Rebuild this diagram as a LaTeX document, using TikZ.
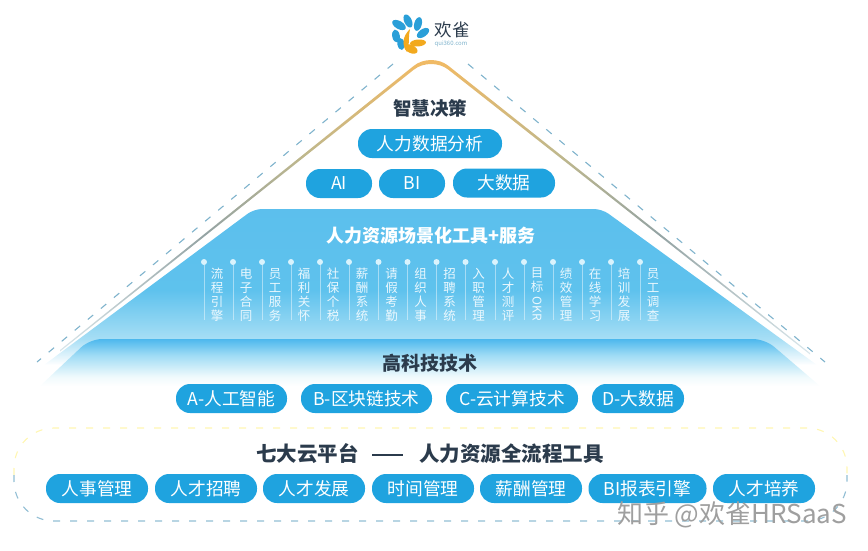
\documentclass[tikz,border=0pt]{standalone}
\usepackage{fontspec}
\setmainfont{Noto Sans CJK SC}
\usepackage{xcolor}
\usetikzlibrary{positioning,calc,shapes}
\definecolor{pillblue}{HTML}{1FA3DF}
\definecolor{titledark}{HTML}{2B3B4C}
\definecolor{logoblue}{HTML}{2A9FD8}
\definecolor{logogold}{HTML}{F2A91E}
\definecolor{dashblue}{HTML}{7FB3CC}
\pgfdeclareverticalshading{rooffade}{100bp}{rgb(0bp)=(0.86,0.91,0.93); rgb(25bp)=(0.86,0.91,0.93); rgb(45bp)=(0.58,0.64,0.64); rgb(58bp)=(0.75,0.72,0.55); rgb(75bp)=(0.96,0.73,0.38); rgb(100bp)=(0.96,0.73,0.38)}
\pgfdeclareverticalshading{scenefade}{100bp}{rgb(0bp)=(1,1,1); rgb(25bp)=(1,1,1); rgb(33.5bp)=(0.65,0.87,0.96); rgb(49bp)=(0.37,0.76,0.93); rgb(75bp)=(0.36,0.75,0.93); rgb(100bp)=(0.36,0.75,0.93)}
\pgfdeclareverticalshading{techfade}{100bp}{rgb(0bp)=(1,1,1); rgb(25bp)=(1,1,1); rgb(35bp)=(0.94,0.98,0.99); rgb(58bp)=(0.62,0.86,0.96); rgb(75bp)=(0.30,0.72,0.93); rgb(100bp)=(0.30,0.72,0.93)}
\tikzset{
  pill/.style={rectangle, rounded corners=14pt, fill=pillblue, text=white, minimum height=29pt, inner sep=0pt, font=\fontsize{17.7}{20}\selectfont},
  layertitle/.style={text=titledark, inner sep=0pt, font=\fontsize{19}{22}\selectfont\bfseries},
  tooldot/.style={circle, fill=white!85!cyan, minimum size=6pt, inner sep=0pt},
  toolline/.style={draw=white, opacity=0.45, line width=0.6pt},
  tooltext/.style={text=white!92!cyan, inner sep=0pt, align=center, font=\fontsize{12.5}{14}\selectfont},
  roofdash/.style={draw=dashblue, dash pattern=on 7pt off 10pt, line width=1.1pt},
  petal/.style={fill=logoblue}
}
\begin{document}
\begin{tikzpicture}[x=1pt,y=-1pt]
    \useasboundingbox (0,0) rectangle (868,550);

    % Logo
    \fill[petal, shift={(399,25)}, rotate=-30] (0,0) ellipse (7.5pt and 4pt);
    \fill[petal, shift={(408,21)}, rotate=-65] (0,0) ellipse (7pt and 3.8pt);
    \fill[petal, shift={(418,24)}, rotate=75] (0,0) ellipse (7pt and 3.8pt);
    \fill[petal, shift={(423,33)}, rotate=35] (0,0) ellipse (7pt and 3.8pt);
    \fill[petal, shift={(396,36)}, rotate=10] (0,0) ellipse (3.8pt and 6.5pt);
    \fill[petal, shift={(401,44)}, rotate=10] (0,0) ellipse (3.6pt and 6pt);
    \fill[logogold] (410,29) .. controls (403,36) and (401,44) .. (407,52) .. controls (410,44) and (408,36) .. (410,29);
    \fill[logogold, shift={(418,43)}, rotate=5] (0,0) ellipse (8pt and 3.5pt);
    \fill[logogold, shift={(411,49)}, rotate=-25] (0,0) ellipse (7pt and 4pt);
    \node[text=titledark, inner sep=0pt, font=\fontsize{17.5}{20}\selectfont] (logotext) at (452,30) {欢雀};
    \node[text=dashblue, inner sep=0pt, font=\fontsize{6}{7}\selectfont] (logourl) at (451,44) {qui360.com};

    % Outer roof lines
    \draw[roofdash] (393,64) -- (37,362);
    \draw[roofdash] (468,64) -- (825,362);
    \shade[shading=rooffade]
        (60,350) [rounded corners=22pt] -- (431,52) [sharp corners] -- (810,353) -- (810,354.5)
        [rounded corners=22pt] -- (431,56) [sharp corners] -- (60,351.5) -- cycle;

    % Scene layer
    \shade[shading=scenefade] (44,365) [rounded corners=8pt] -- (254,209) -- (602,209) [sharp corners] -- (817,365) -- cycle;

    % Tech layer
    \shade[shading=techfade] (40,386) [rounded corners=12pt] -- (90,339) -- (765,339) [sharp corners] -- (820,386) -- cycle;

    % Decision layer
    \node[layertitle, font=\fontsize{18.5}{22}\selectfont\bfseries] (decision) at (430,108) {智慧决策};
    \node[pill, minimum width=144pt] (analysis) at (430,143.5) {人力数据分析};
    \node[pill, minimum width=66pt] (ai) at (339,183.5) {AI};
    \node[pill, minimum width=66pt] (bi) at (412,183.5) {BI};
    \node[pill, minimum width=102pt] (bigdata) at (504,183) {大数据};

    % Scene tools
    \node[layertitle, text=white, font=\fontsize{18}{22}\selectfont\bfseries] (scene) at (431,236) {人力资源场景化工具+服务};
    \node[tooldot] (d1) at (204,262) {}; \coordinate (e1) at (204,320); \draw[toolline] (d1) -- (e1);
    \node[tooldot] (d2) at (233,262) {}; \coordinate (e2) at (233,320); \draw[toolline] (d2) -- (e2);
    \node[tooldot] (d3) at (262,262) {}; \coordinate (e3) at (262,320); \draw[toolline] (d3) -- (e3);
    \node[tooldot] (d4) at (291,262) {}; \coordinate (e4) at (291,320); \draw[toolline] (d4) -- (e4);
    \node[tooldot] (d5) at (320,262) {}; \coordinate (e5) at (320,320); \draw[toolline] (d5) -- (e5);
    \node[tooldot] (d6) at (349,262) {}; \coordinate (e6) at (349,320); \draw[toolline] (d6) -- (e6);
    \node[tooldot] (d7) at (378.5,262) {}; \coordinate (e7) at (378.5,320); \draw[toolline] (d7) -- (e7);
    \node[tooldot] (d8) at (407.5,262) {}; \coordinate (e8) at (407.5,320); \draw[toolline] (d8) -- (e8);
    \node[tooldot] (d9) at (436.5,262) {}; \coordinate (e9) at (436.5,320); \draw[toolline] (d9) -- (e9);
    \node[tooldot] (d10) at (465.5,262) {}; \coordinate (e10) at (465.5,320); \draw[toolline] (d10) -- (e10);
    \node[tooldot] (d11) at (495,262) {}; \coordinate (e11) at (495,320); \draw[toolline] (d11) -- (e11);
    \node[tooldot] (d12) at (524,262) {}; \coordinate (e12) at (524,320); \draw[toolline] (d12) -- (e12);
    \node[tooldot] (d13) at (553,262) {}; \coordinate (e13) at (553,320); \draw[toolline] (d13) -- (e13);
    \node[tooldot] (d14) at (582,262) {}; \coordinate (e14) at (582,320); \draw[toolline] (d14) -- (e14);
    \node[tooldot] (d15) at (611,262) {}; \coordinate (e15) at (611,320); \draw[toolline] (d15) -- (e15);
    \node[tooldot] (d16) at (640,262) {}; \coordinate (e16) at (640,320); \draw[toolline] (d16) -- (e16);
    \node[tooltext] (t1) at (217,295) {流\\程\\引\\擎};
    \node[tooltext] (t2) at (246,295) {电\\子\\合\\同};
    \node[tooltext] (t3) at (275,295) {员\\工\\服\\务};
    \node[tooltext] (t4) at (304,295) {福\\利\\关\\怀};
    \node[tooltext] (t5) at (333,295) {社\\保\\个\\税};
    \node[tooltext] (t6) at (362,295) {薪\\酬\\系\\统};
    \node[tooltext] (t7) at (391.5,295) {请\\假\\考\\勤};
    \node[tooltext] (t8) at (420.5,295) {组\\织\\人\\事};
    \node[tooltext] (t9) at (449.5,295) {招\\聘\\系\\统};
    \node[tooltext] (t10) at (478.5,295) {入\\职\\管\\理};
    \node[tooltext] (t11) at (508,295) {人\\才\\测\\评};
    \node[tooltext, anchor=north] (t12) at (537,268) {目\\标\\[-9pt]\fontsize{12}{12}\selectfont\rotatebox{-90}{OKR}};
    \node[tooltext] (t13) at (566,295) {绩\\效\\管\\理};
    \node[tooltext] (t14) at (595,295) {在\\线\\学\\习};
    \node[tooltext] (t15) at (624,295) {培\\训\\发\\展};
    \node[tooltext] (t16) at (653,295) {员\\工\\调\\查};

    % Tech layer labels
    \node[layertitle] (tech) at (430,363) {高科技技术};
    \node[pill, minimum width=111pt] (techa) at (231.5,398.5) {A-人工智能};
    \node[pill, minimum width=131pt] (techb) at (366.5,398.5) {B-区块链技术};
    \node[pill, minimum width=132pt] (techc) at (512,398.5) {C-云计算技术};
    \node[pill, minimum width=92pt] (techd) at (638,398.5) {D-大数据};

    % Cloud platform
    \draw[orange!25!yellow!30!white, dash pattern=on 7pt off 10pt, line width=1.1pt]
        (14,475) [rounded corners=40pt] |- (847,428) -- (847,475);
    \draw[roofdash, draw=dashblue!85!white]
        (14,475) [rounded corners=40pt] |- (847,521) -- (847,475);
    \node[layertitle, font=\fontsize{20.5}{24}\selectfont\bfseries, anchor=west] (cloud) at (256,454) {七大云平台};
    \node[fill=titledark, minimum width=31pt, minimum height=1.6pt, inner sep=0pt] (clouddash) at (387.5,455) {};
    \node[layertitle, font=\fontsize{20.5}{24}\selectfont\bfseries, anchor=east] (cloudtool) at (604,454) {人力资源全流程工具};
    \node[pill, minimum width=102pt] (c1) at (97,488.5) {人事管理};
    \node[pill, minimum width=102pt] (c2) at (206,488.5) {人才招聘};
    \node[pill, minimum width=102pt] (c3) at (314,488.5) {人才发展};
    \node[pill, minimum width=102pt] (c4) at (423,488.5) {时间管理};
    \node[pill, minimum width=102pt] (c5) at (531,488.5) {薪酬管理};
    \node[pill, minimum width=118pt] (c6) at (647.5,488.5) {BI报表引擎};
    \node[pill, minimum width=102pt] (c7) at (764,488.5) {人才培养};

    % Watermark
    \node[text=gray!75, inner sep=0pt, anchor=east, font=\fontsize{26}{30}\selectfont] (mark) at (847,515) {知乎 @欢雀HRSaaS};
\end{tikzpicture}
\end{document}
